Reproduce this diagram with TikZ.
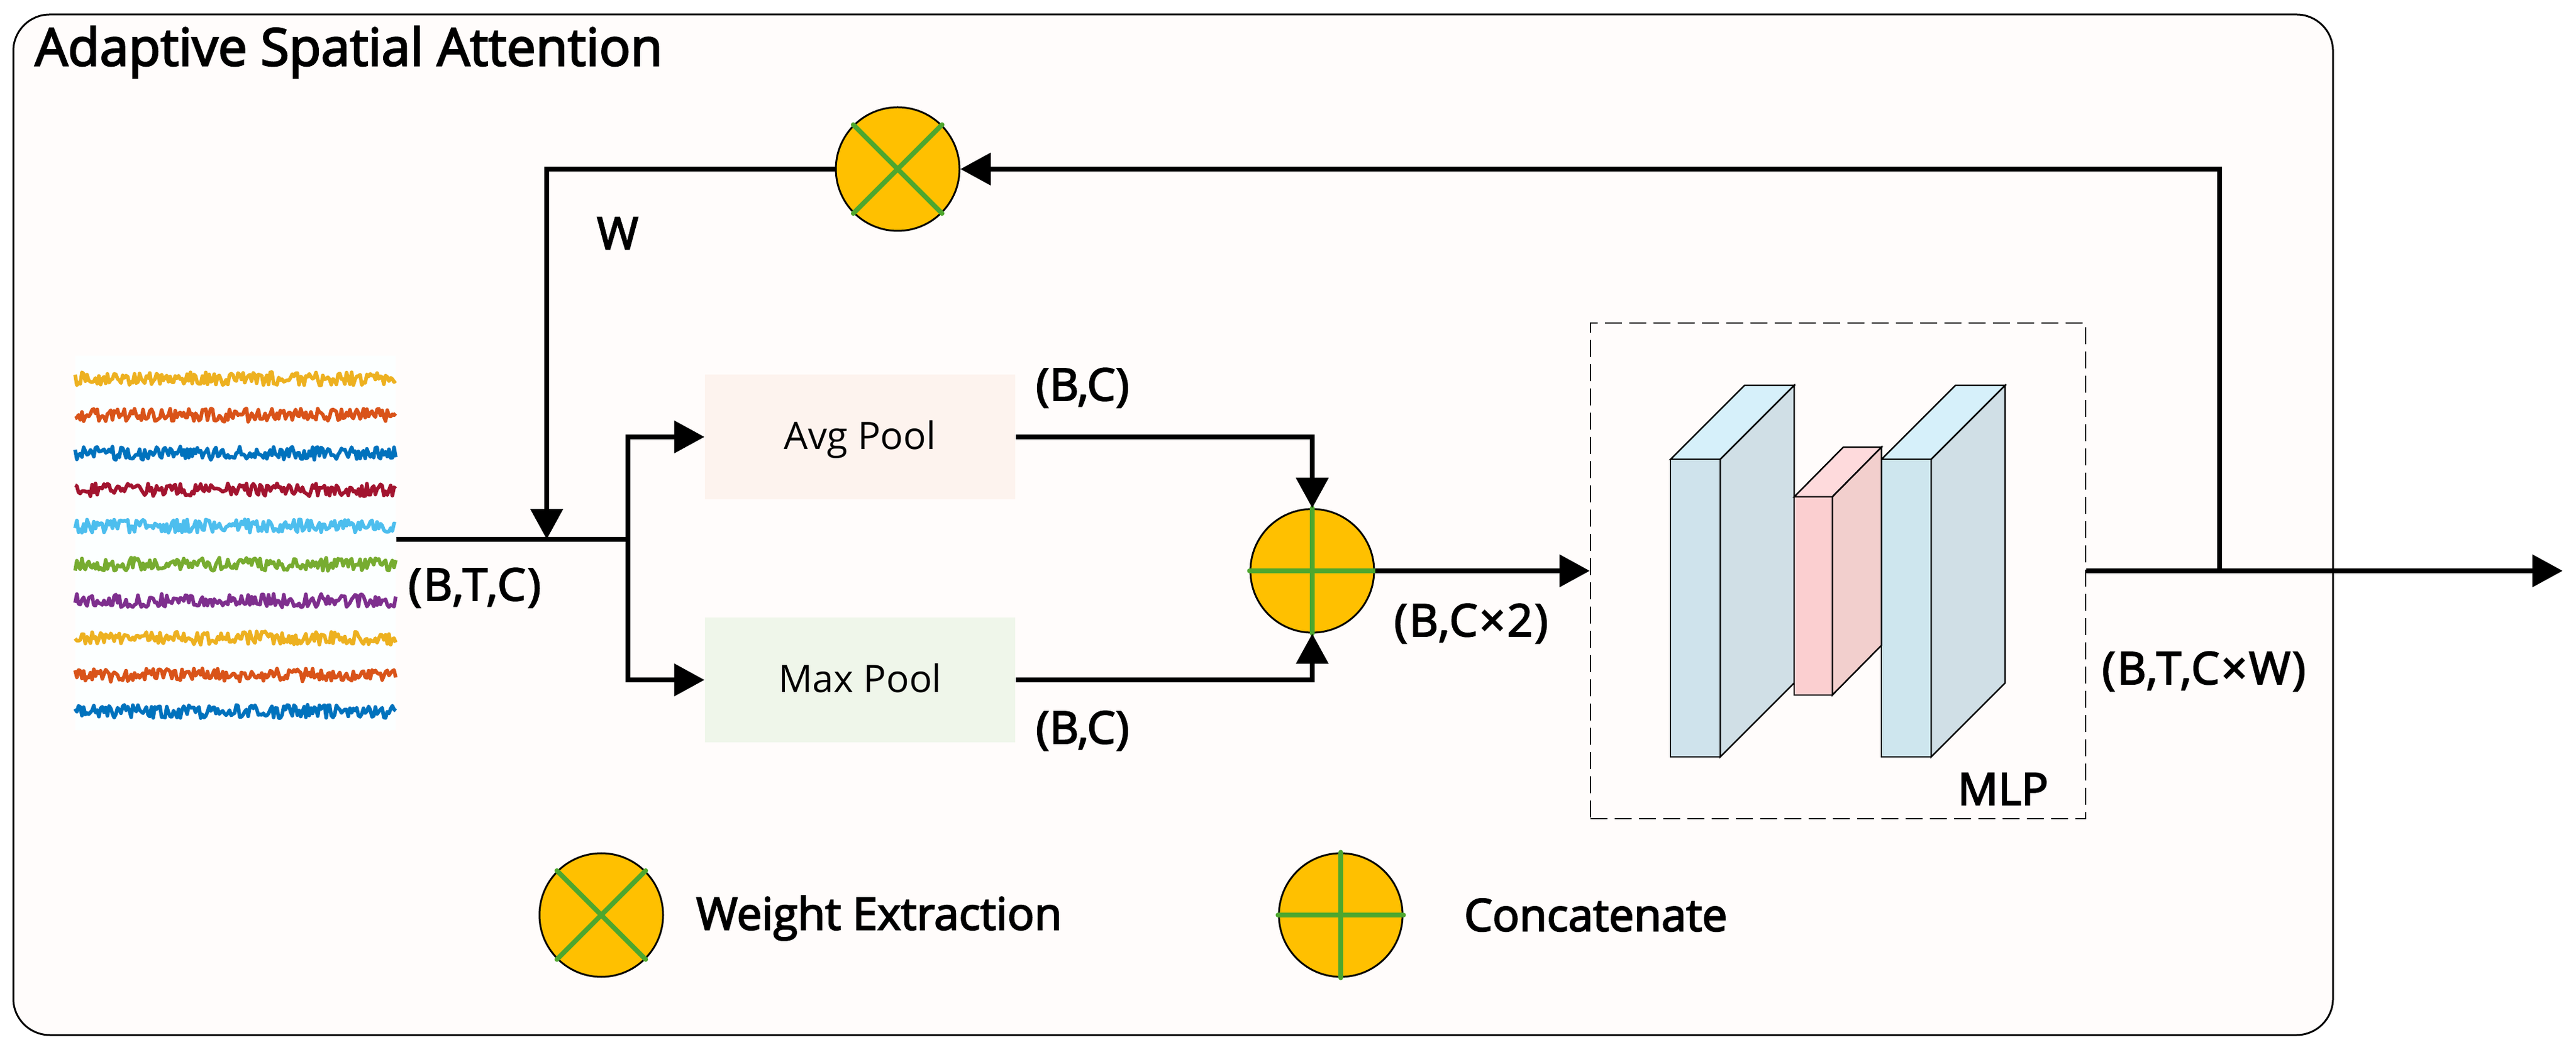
\documentclass[tikz,border=0pt]{standalone}
\usepackage{fontspec}
\setmainfont{Open Sans}
\newfontfamily\lblfont{Open Sans}[RawFeature={embolden=3}]
\usetikzlibrary{arrows.meta}
\definecolor{panelbg}{HTML}{FFFCFB}
\definecolor{opyellow}{HTML}{FFC000}
\definecolor{opgreen}{HTML}{4EA72E}
\definecolor{avgbg}{HTML}{FDF3EE}
\definecolor{maxbg}{HTML}{EFF6EA}
\definecolor{sigbg}{HTML}{FCFFFF}
\definecolor{sigyellow}{HTML}{EDB120}
\definecolor{sigorange}{HTML}{D95319}
\definecolor{sigblue}{HTML}{0072BD}
\definecolor{sigred}{HTML}{A2142F}
\definecolor{sigcyan}{HTML}{4DBEEE}
\definecolor{siggreen}{HTML}{77AC30}
\definecolor{sigpurple}{HTML}{7E2F8E}
\definecolor{bluefrontl}{HTML}{CFE3EC}
\definecolor{bluefrontr}{HTML}{CEE6EE}
\definecolor{bluetop}{HTML}{D6F0FA}
\definecolor{blueside}{HTML}{D0DFE6}
\definecolor{pinkfront}{HTML}{FBCFD0}
\definecolor{pinktop}{HTML}{FEDADC}
\definecolor{pinkside}{HTML}{F2CFCD}
% x y w h dx dy front top side
\newcommand{\slab}[9]{
    \draw [slabline,fill=#8] (#1,#2+#4) -- ++(#5,#6) -- ++(#3,0) -- ++(-#5,-#6) -- cycle;
    \draw [slabline,fill=#9] (#1+#3,#2) -- ++(#5,#6) -- ++(0,#4) -- ++(-#5,-#6) -- cycle;
    \draw [slabline,fill=#7] (#1,#2) rectangle ++(#3,#4);
}
\begin{document}
\begin{tikzpicture}[
    wire/.style={line width=0.085cm},
    flow/.style={wire,-{Triangle[length=0.5cm,width=0.52cm]}},
    opnode/.style={circle,draw,line width=0.03cm,fill=opyellow,minimum size=2.04cm,inner sep=0pt},
    cross/.style={line width=0.08cm,draw=opgreen,line cap=round},
    poolbox/.style={minimum width=5.12cm,minimum height=2.06cm,inner sep=0pt,text height=0.45cm,text depth=0.04cm,font=\fontsize{17.8}{20}\selectfont},
    label/.style={inner sep=0pt,font=\fontsize{21}{24}\selectfont\lblfont},
    dims/.style={label,font=\fontsize{21}{24}\selectfont\lblfont\addfontfeature{LetterSpace=4.5}},
    dimshort/.style={label,font=\fontsize{21}{24}\selectfont\lblfont\addfontfeature{LetterSpace=1.5}},
    slabline/.style={line width=0.025cm}]
    \useasboundingbox (0,0) rectangle (42.5,17.35);

    % panel
    \draw [line width=0.03cm,fill=panelbg,rounded corners=0.6cm] (0.22,0.27) rectangle (38.49,17.11);
    \node [label,anchor=west,font=\fontsize{24.4}{28}\selectfont\lblfont] (title) at (0.57,16.49) {Adaptive Spatial Attention};

    % signals
    \node [fill=sigbg,minimum width=5.29cm,minimum height=6.18cm,inner sep=0pt] (signals) at (3.885,8.39) {};
    \pgfmathsetseed{4217}
    \foreach \sy/\sc in {11.10/sigyellow,10.50/sigorange,9.87/sigblue,9.27/sigred,8.67/sigcyan,
                         8.04/siggreen,7.44/sigpurple,6.82/sigyellow,6.21/sigorange,5.61/sigblue}
      \draw [\sc,line width=0.06cm,line join=round]
        plot [domain=1.24:6.53,samples=190] (\x,{\sy+0.11*rand});

    % pools
    \node [poolbox,fill=avgbg] (avg) at (14.19,10.14) {Avg Pool};
    \node [poolbox,fill=maxbg] (max) at (14.19,6.13) {Max Pool};

    % operators
    \node [opnode] (weight) at (14.81,14.56) {};
    \node [opnode] (concat) at (21.65,7.93) {};
    \node [opnode] (legweight) at (9.92,2.25) {};
    \node [opnode] (legconcat) at (22.12,2.25) {};
    \foreach \n in {weight,legweight} {
      \draw [cross] (\n.45) -- (\n.225);
      \draw [cross] (\n.135) -- (\n.315);
    }
    \foreach \n in {concat,legconcat} {
      \draw [cross] (\n.west) -- (\n.east);
      \draw [cross] (\n.north) -- (\n.south);
    }

    % MLP
    \node [draw,dash pattern=on 0.28cm off 0.12cm,line width=0.022cm,minimum width=8.17cm,minimum height=8.18cm,inner sep=0pt] (mlp) at (30.325,7.93) {};
    \slab{27.56}{4.86}{0.82}{4.91}{1.22}{1.22}{bluefrontl}{bluetop}{blueside}
    \slab{31.04}{4.86}{0.82}{4.91}{1.22}{1.22}{bluefrontr}{bluetop}{blueside}
    \slab{29.60}{5.88}{0.63}{3.27}{0.81}{0.82}{pinkfront}{pinktop}{pinkside}
    \node [label,anchor=east] (mlplabel) at (33.80,4.33) {MLP};

    % wires
    \coordinate (merge) at (9.02,8.45);
    \coordinate (fork) at (10.36,8.45);
    \coordinate (tap) at (36.62,7.93);
    \coordinate (out) at (42.28,7.93);
    \draw [wire] (signals.east |- merge) -- (fork);
    \draw [flow] (fork) |- (avg.west);
    \draw [flow] (fork) |- (max.west);
    \draw [flow] (weight.west) -| (merge);
    \draw [flow] (avg.east) -| (concat.north);
    \draw [flow] (max.east) -| (concat.south);
    \draw [flow] (concat.east) -- (concat.east -| mlp.west);
    \draw [flow] (mlp.east |- tap) -- (out);
    \draw [flow] (tap) |- (weight.east);

    % labels
    \node [label] (w) at (10.19,13.50) {W};
    \node [dims] (btc) at (7.83,7.65) {(B,T,C)};
    \node [dimshort] (bca) at (17.86,10.95) {(B,C)};
    \node [dimshort] (bcm) at (17.86,5.29) {(B,C)};
    \node [dims] (bc2) at (24.27,7.06) {(B,C×2)};
    \node [dims] (btcw) at (36.36,6.27) {(B,T,C×W)};
    \node [label,anchor=west] (legw) at (11.48,2.20) {Weight Extraction};
    \node [label,anchor=west] (legc) at (24.15,2.25) {Concatenate};
\end{tikzpicture}
\end{document}
